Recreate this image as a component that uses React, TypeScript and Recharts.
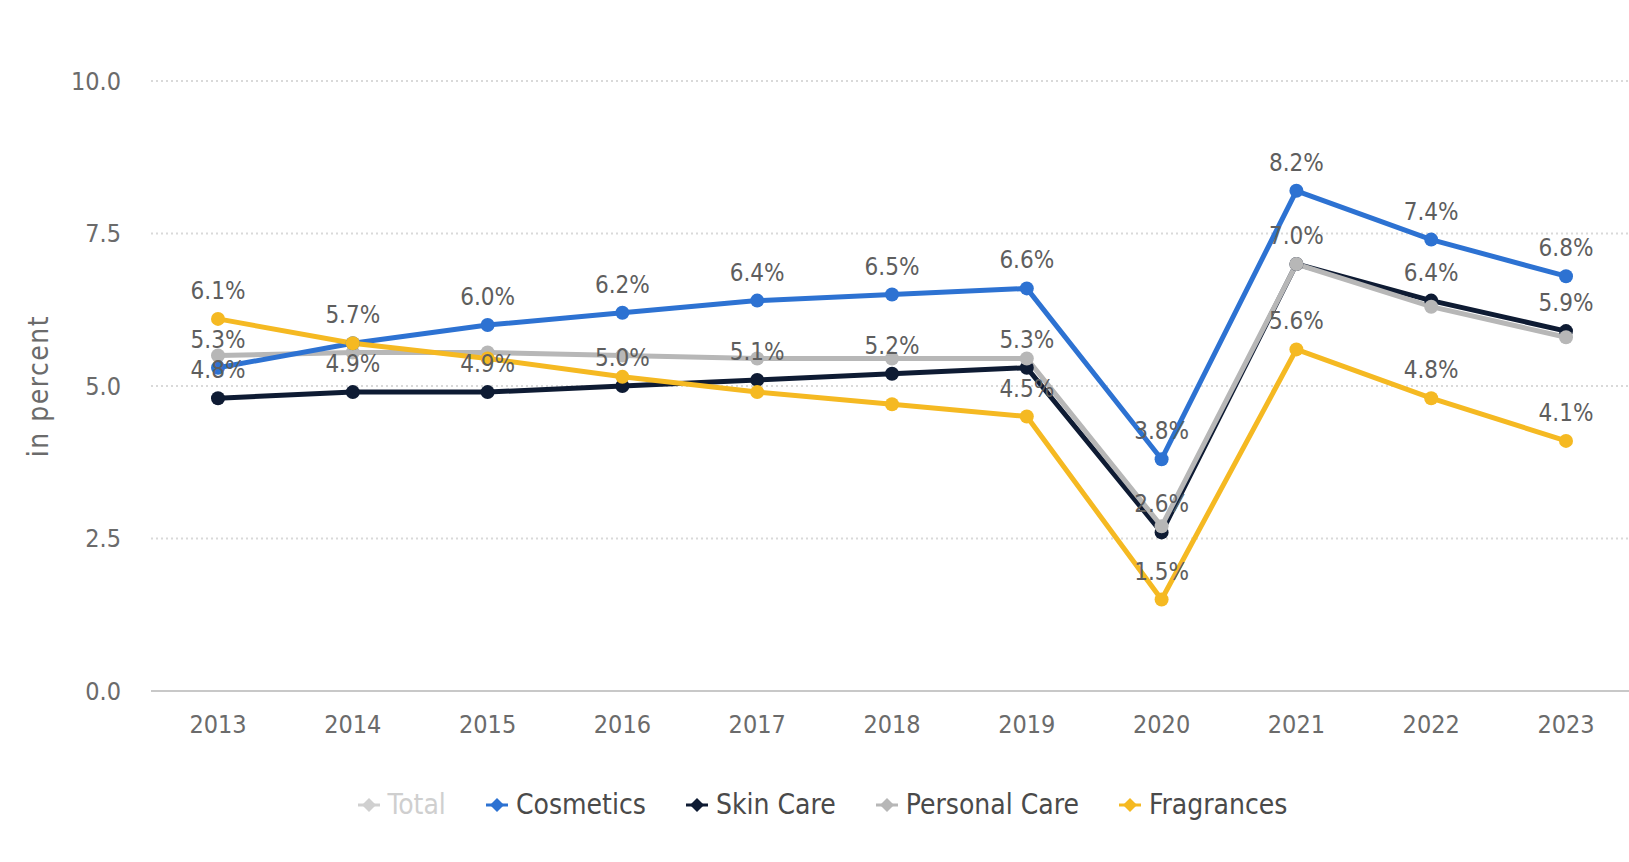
import React from 'react';
import { LineChart, Line, XAxis, YAxis, CartesianGrid } from 'recharts';

const years = ['2013', '2014', '2015', '2016', '2017', '2018', '2019', '2020', '2021', '2022', '2023'];
const cosmetics = [5.3, 5.7, 6.0, 6.2, 6.4, 6.5, 6.6, 3.8, 8.2, 7.4, 6.8];
const skinCare = [4.8, 4.9, 4.9, 5.0, 5.1, 5.2, 5.3, 2.6, 7.0, 6.4, 5.9];
const personalCare = [5.5, 5.55, 5.55, 5.5, 5.45, 5.45, 5.45, 2.7, 7.0, 6.3, 5.8];
const fragrances = [6.1, 5.7, 5.45, 5.15, 4.9, 4.7, 4.5, 1.5, 5.6, 4.8, 4.1];
const yTicks = [0, 2.5, 5, 7.5, 10];

// labels Statista dropped because they collided
const hiddenLabels: Record<string, number[]> = {
  cosmetics: [1],
  skinCare: [],
  fragrances: [2, 3, 4, 5],
};

const data = years.map((year, i) => ({
  year,
  cosmetics: cosmetics[i],
  skinCare: skinCare[i],
  personalCare: personalCare[i],
  fragrances: fragrances[i],
}));

const FONT = '"Liberation Sans Narrow", "DejaVu Sans Condensed", "Roboto Condensed", Roboto, sans-serif';

const legendItems = [
  { name: 'Total', color: '#d0d0d0', text: '#cfcfcf' },
  { name: 'Cosmetics', color: '#2d72d2', text: '#4a4a4a' },
  { name: 'Skin Care', color: '#0e1b33', text: '#4a4a4a' },
  { name: 'Personal Care', color: '#b7b7b7', text: '#4a4a4a' },
  { name: 'Fragrances', color: '#f5b922', text: '#4a4a4a' },
];

const makeLabel = (key: string) => (props: any) => {
  const { x, y, value, index } = props;
  if (hiddenLabels[key].includes(index)) return null;
  return (
    <text x={x} y={y - 20} textAnchor="middle" fill="#5e5e5e" fontSize={24} fontFamily={FONT}>
      {`${value.toFixed(1)}%`}
    </text>
  );
};

const YTitle = (props: any) => {
  const { viewBox } = props;
  const cy = viewBox.y + viewBox.height / 2;
  return (
    <text x={38} y={cy} transform={`rotate(-90, 38, ${cy})`} textAnchor="middle" dominantBaseline="central"
      fill="#6b6b6b" fontSize={28} letterSpacing={1.5} fontFamily={FONT}>
      in percent
    </text>
  );
};

const App = () => {
  return (
    <div style={{ position: 'absolute', left: 0, top: 0, width: 1629, height: 862, background: '#fff', overflow: 'hidden' }}>
      <LineChart width={1629} height={862} data={data} margin={{ top: 81, right: 0, bottom: 111, left: 0 }}>
        <CartesianGrid vertical={false} stroke="#d9d9d9" strokeDasharray="2 3" strokeWidth={2} />
        <XAxis
          dataKey="year"
          padding={{ left: 67, right: 63 }}
          axisLine={{ stroke: '#c8c8c8', strokeWidth: 2 }}
          tickLine={false}
          tickSize={0}
          tickMargin={24}
          height={60}
          tick={{ fill: '#6b6b6b', fontSize: 25, fontFamily: FONT }}
        />
        <YAxis
          domain={[0, 10]}
          ticks={yTicks}
          width={151}
          axisLine={false}
          tickLine={false}
          tickSize={0}
          tickMargin={30}
          tickFormatter={(v: number) => v.toFixed(1)}
          tick={{ fill: '#6b6b6b', fontSize: 25, fontFamily: FONT }}
          label={<YTitle />}
        />
        <Line dataKey="skinCare" stroke="#0e1b33" strokeWidth={5} dot={{ r: 7, fill: '#0e1b33', strokeWidth: 0 }} isAnimationActive={false} />
        <Line dataKey="personalCare" stroke="#b7b7b7" strokeWidth={5} dot={{ r: 7, fill: '#b7b7b7', strokeWidth: 0 }} isAnimationActive={false} />
        <Line dataKey="cosmetics" stroke="#2d72d2" strokeWidth={5} dot={{ r: 7, fill: '#2d72d2', strokeWidth: 0 }} isAnimationActive={false} />
        <Line dataKey="fragrances" stroke="#f5b922" strokeWidth={5} dot={{ r: 7, fill: '#f5b922', strokeWidth: 0 }} isAnimationActive={false} />
        {/* label-only passes so the percentages sit above every line */}
        <Line dataKey="cosmetics" stroke="none" dot={false} activeDot={false} label={makeLabel('cosmetics')} isAnimationActive={false} />
        <Line dataKey="skinCare" stroke="none" dot={false} activeDot={false} label={makeLabel('skinCare')} isAnimationActive={false} />
        <Line dataKey="fragrances" stroke="none" dot={false} activeDot={false} label={makeLabel('fragrances')} isAnimationActive={false} />
      </LineChart>
      <div style={{ position: 'absolute', left: 8, top: 788, width: 1629, display: 'flex', justifyContent: 'center', gap: 40, fontFamily: FONT, fontSize: 28 }}>
        {legendItems.map((item) => (
          <div key={item.name} style={{ display: 'flex', alignItems: 'center' }}>
            <svg width={22} height={16} style={{ marginRight: 8 }}>
              <line x1={0} y1={8} x2={22} y2={8} stroke={item.color} strokeWidth={3} />
              <path d="M11 1 L18 8 L11 15 L4 8 Z" fill={item.color} />
            </svg>
            <span style={{ color: item.text }}>{item.name}</span>
          </div>
        ))}
      </div>
    </div>
  );
};

export default App;
